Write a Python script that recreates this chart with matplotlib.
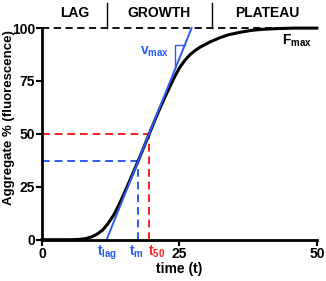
import matplotlib
matplotlib.use("Agg")
import matplotlib.pyplot as plt

plt.rcParams['font.family'] = ['Liberation Sans', 'DejaVu Sans']
plt.rcParams['font.weight'] = 'bold'
plt.rcParams['mathtext.fontset'] = 'custom'
plt.rcParams['mathtext.bf'] = 'Liberation Sans:bold'
plt.rcParams['mathtext.rm'] = 'Liberation Sans:bold'
plt.rcParams['mathtext.default'] = 'bf'

# sigmoid curve
time_pts = [0, 5, 6, 7, 8, 9, 10, 11, 12, 13, 14, 15, 16, 17, 17.5, 18.5, 19.5,
            20.5, 21.5, 22.5, 23.3, 24.2, 25.1, 26, 26.9, 27.8, 28.7, 30.5,
            32.4, 34, 36, 38, 40, 43, 46, 50]
agg_pts = [0, 0, 0.05, 0.2, 0.55, 1.3, 2.6, 4.5, 7.6, 11.5, 16.5, 22.2, 28.2,
           34.3, 37.3, 43.6, 50, 56.3, 62.4, 68.2, 72.6, 77.4, 81.6, 84.8,
           87.4, 89.3, 90.9, 93.4, 95.5, 96.9, 98.0, 98.9, 99.4, 99.8, 100, 100]

# key times / levels
t_lag = 11.75
t_m = 17.5
y_m = 37.3
t_50 = 19.4
y_50 = 50
tangent_t = [t_lag, 27.2]
tangent_y = [0, 100]
tri_t = [24.2, 24.2, 25.95]
tri_y = [80.5, 92, 92]
f_max = 100

phase_labels = ['LAG', 'GROWTH', 'PLATEAU']
phase_centers = [6, 21.3, 40.9]
phase_bounds = [t_lag, 31.0]

blue = '#2a5cf2'
red = '#f52020'
dash = (0, (4, 2.5))

fig = plt.figure(figsize=(3.26, 2.81), dpi=100)
ax = fig.add_axes([0.129, 0.147, 0.843, 0.753])

ax.plot([0, 50], [f_max, f_max], color='black', lw=1.3, ls=dash, clip_on=False)
ax.plot([0, t_50], [y_50, y_50], color=red, lw=1.4, ls=dash)
ax.plot([t_50, t_50], [0, y_50], color=red, lw=1.4, ls=dash)
ax.plot([0, t_m], [y_m, y_m], color=blue, lw=1.4, ls=dash)
ax.plot([t_m, t_m], [0, y_m], color=blue, lw=1.4, ls=dash)
ax.plot(time_pts, agg_pts, color='black', lw=2.2, clip_on=False)
ax.plot(tangent_t, tangent_y, color=blue, lw=1.4, clip_on=False)
ax.plot(tri_t, tri_y, color=blue, lw=1.0)

# phase labels on top
for b in phase_bounds:
    ax.plot([b, b], [100, 112], color='black', lw=1.0, clip_on=False)
for lab, c in zip(phase_labels, phase_centers):
    ax.text(c, 107, lab, ha='center', va='center', fontsize=10, fontweight='bold')

ax.text(17.8, 87.3, r'v$_{max}$', color=blue, ha='left', va='baseline', fontsize=10)
ax.text(43.6, 92, r'F$_{max}$', color='black', ha='left', va='baseline', fontsize=10)

ax.set_xlim(0, 50)
ax.set_ylim(0, 100)
ax.set_xticks([0, 25, 50])
ax.set_yticks([0, 25, 50, 75, 100])
ax.tick_params(width=1.5, length=4, labelsize=10, pad=1)
for s in ['top', 'right']:
    ax.spines[s].set_visible(False)
for s in ['left', 'bottom']:
    ax.spines[s].set_linewidth(2)

ax.text(9.95, -7.3, r't$_{lag}$', color=blue, ha='left', va='baseline', fontsize=10)
ax.text(15.9, -7.3, r't$_{m}$', color=blue, ha='left', va='baseline', fontsize=10)
ax.text(19.3, -7.3, r't$_{50}$', color=red, ha='left', va='baseline', fontsize=10)

ax.set_xlabel('time (t)', fontsize=10, fontweight='bold', labelpad=1)
ax.set_ylabel('Aggregate % (fluorescence)', fontsize=9.5, fontweight='bold')
ax.yaxis.set_label_coords(-0.098, 0.577)

fig.savefig('out.png', dpi=100)
